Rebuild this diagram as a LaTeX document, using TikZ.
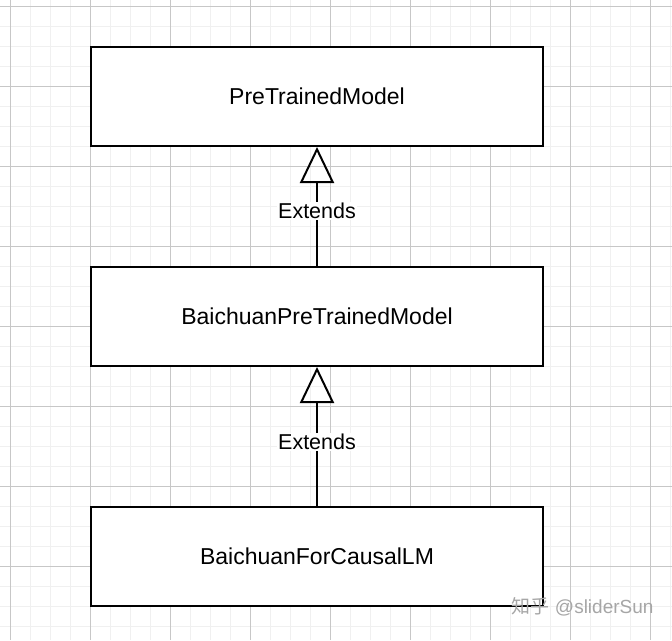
\documentclass[tikz,border=0pt]{standalone}
\usetikzlibrary{arrows.meta}
\usepackage{fontspec}
\setmainfont{Liberation Sans}
\newfontfamily\cjk{Noto Sans CJK SC}
\begin{document}
\begin{tikzpicture}[x=1pt,y=-1pt,
  box/.style={draw,line width=2pt,minimum width=452pt,minimum height=99pt,inner sep=0pt,font=\fontsize{23}{26}\selectfont},
  lbl/.style={fill=white,inner sep=1pt,font=\fontsize{21.5}{24}\selectfont},
  ext/.style={line width=2pt,-{Triangle[open,width=34pt,length=36pt,line width=2pt]}}]
\useasboundingbox (0,0) rectangle (672,640);
\fill[white] (0,0) rectangle (672,640);
\foreach \x in {10,30,...,670} \draw[black!6,line width=1pt] (\x,0) -- (\x,640);
\foreach \y in {6,26,...,640} \draw[black!6,line width=1pt] (0,\y) -- (672,\y);
\foreach \x in {10,90,...,670} \draw[black!22,line width=1pt] (\x,0) -- (\x,640);
\foreach \y in {6,86,...,640} \draw[black!22,line width=1pt] (0,\y) -- (672,\y);
\node[box,fill=white] (a) at (317,96.5) {PreTrainedModel};
\node[box,fill=white] (b) at (317,316.5) {BaichuanPreTrainedModel};
\node[box,fill=white] (c) at (317,556.5) {BaichuanForCausalLM};
\draw[ext] (b.north) -- node[lbl,pos=0.46] (l1) {Extends} (a.south);
\draw[ext] (c.north) -- node[lbl,pos=0.46] (l2) {Extends} (b.south);
\node[text=black!35,font=\fontsize{19}{22}\selectfont,anchor=east] (w) at (657,607) {{\cjk 知乎} @sliderSun};
\end{tikzpicture}
\end{document}
